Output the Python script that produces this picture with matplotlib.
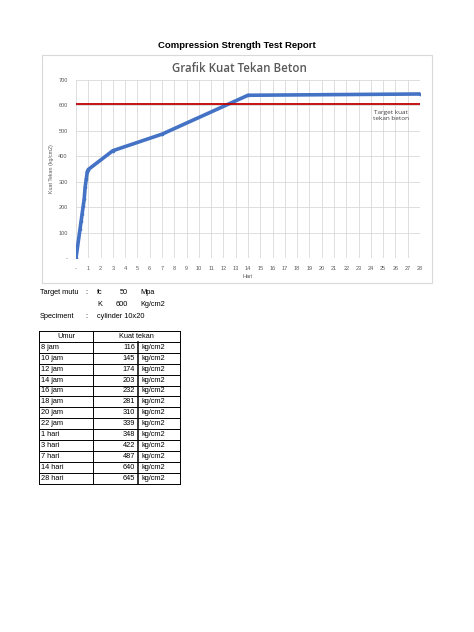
import matplotlib.pyplot as plt
from matplotlib.patches import Rectangle
from matplotlib.lines import Line2D

# data
hari = [0, 8/24, 10/24, 12/24, 14/24, 16/24, 18/24, 20/24, 22/24, 1, 3, 7, 14, 28]
kuat = [0, 116, 145, 174, 203, 232, 281, 310, 339, 348, 422, 487, 640, 645]
target = 607
umur = ['8 jam', '10 jam', '12 jam', '14 jam', '16 jam', '18 jam', '20 jam',
        '22 jam', '1 hari', '3 hari', '7 hari', '14 hari', '28 hari']
nilai = [116, 145, 174, 203, 232, 281, 310, 339, 348, 422, 487, 640, 645]
x_ticks = list(range(0, 29))
y_ticks = list(range(0, 701, 100))

W, H = 474, 632
fig = plt.figure(figsize=(W / 100, H / 100), dpi=100)
plt.rcParams['font.family'] = ['Liberation Sans', 'DejaVu Sans']


def fx(x):
    return x / W


def fy(y):
    return 1 - y / H


def txt(x, y, s, **kw):
    kw.setdefault('fontsize', 5.3)
    kw.setdefault('va', 'center')
    fig.text(fx(x), fy(y), s, **kw)


# report title
txt(237, 45, 'Compression Strength Test Report', ha='center', fontsize=6.8, weight='bold')

# chart box
fig.patches.append(Rectangle((fx(42), fy(283)), fx(432) - fx(42), fy(55) - fy(283),
                             transform=fig.transFigure, fill=False, edgecolor='#D9D9D9', lw=0.8))
txt(239, 68, 'Grafik Kuat Tekan Beton', ha='center', fontsize=8.3, color='#595959',
    weight='semibold', family=['Open Sans', 'DejaVu Sans'])

ax = fig.add_axes([fx(76), fy(258), fx(420) - fx(76), fy(80) - fy(258)])
ax.plot(hari, kuat, color='#4472C4', lw=2.6, marker='o', markersize=1.6, solid_capstyle='round')
ax.axhline(target, color='#C00000', lw=1.3)
ax.set_xlim(0, 28)
ax.set_ylim(0, 700)
ax.set_xticks(x_ticks)
ax.set_xticklabels(['-'] + [str(i) for i in x_ticks[1:]])
ax.set_yticks(y_ticks)
ax.set_yticklabels(['-'] + [str(i) for i in y_ticks[1:]])
ax.tick_params(labelsize=4, labelcolor='#595959', length=0, pad=6)
ax.grid(True, color='#D9D9D9', lw=0.6)
ax.set_axisbelow(True)
for s in ax.spines.values():
    s.set_visible(False)
ax.set_xlabel('Hari', fontsize=4, color='#595959', labelpad=2)
ax.set_ylabel('Kuat Tekan (kg/cm2)', fontsize=3.8, color='#595959', labelpad=3)
ax.text(25.6, 560, 'Target kuat\ntekan beton', ha='center', va='center', fontsize=4.6,
        color='#404040', family=['Open Sans', 'DejaVu Sans'])

# info text
txt(40, 292, 'Target mutu')
txt(85, 292, ':')
txt(97, 292, 'fc')
txt(128, 292, '50', ha='right')
txt(140, 292, 'Mpa')
txt(97, 304, 'K')
txt(128, 304, '600', ha='right')
txt(140, 304, 'Kg/cm2')
txt(40, 316, 'Speciment')
txt(85, 316, ':')
txt(97, 316, 'cylinder 10x20')

# table
left, c1, c2, right = 39, 93, 138, 180
top, rh = 331, 10.9
n = len(umur) + 1
bottom = top + rh * n


def line(x0, y0, x1, y1, lw=0.7):
    fig.add_artist(Line2D([fx(x0), fx(x1)], [fy(y0), fy(y1)], transform=fig.transFigure,
                          color='black', lw=lw))


for i in range(n + 1):
    line(left, top + i * rh, right, top + i * rh)
line(left, top, left, bottom)
line(right, top, right, bottom)
line(c1, top, c1, bottom)
line(c2, top + rh, c2, bottom, lw=1.1)

txt((left + c1) / 2, top + rh / 2, 'Umur', ha='center')
txt((c1 + right) / 2, top + rh / 2, 'Kuat tekan', ha='center')
for i, (u, v) in enumerate(zip(umur, nilai)):
    yc = top + rh * (i + 1.5)
    txt(left + 2, yc, u)
    txt(c2 - 3, yc, str(v), ha='right')
    txt(c2 + 3, yc, 'kg/cm2')

fig.savefig('out.png', dpi=100)
